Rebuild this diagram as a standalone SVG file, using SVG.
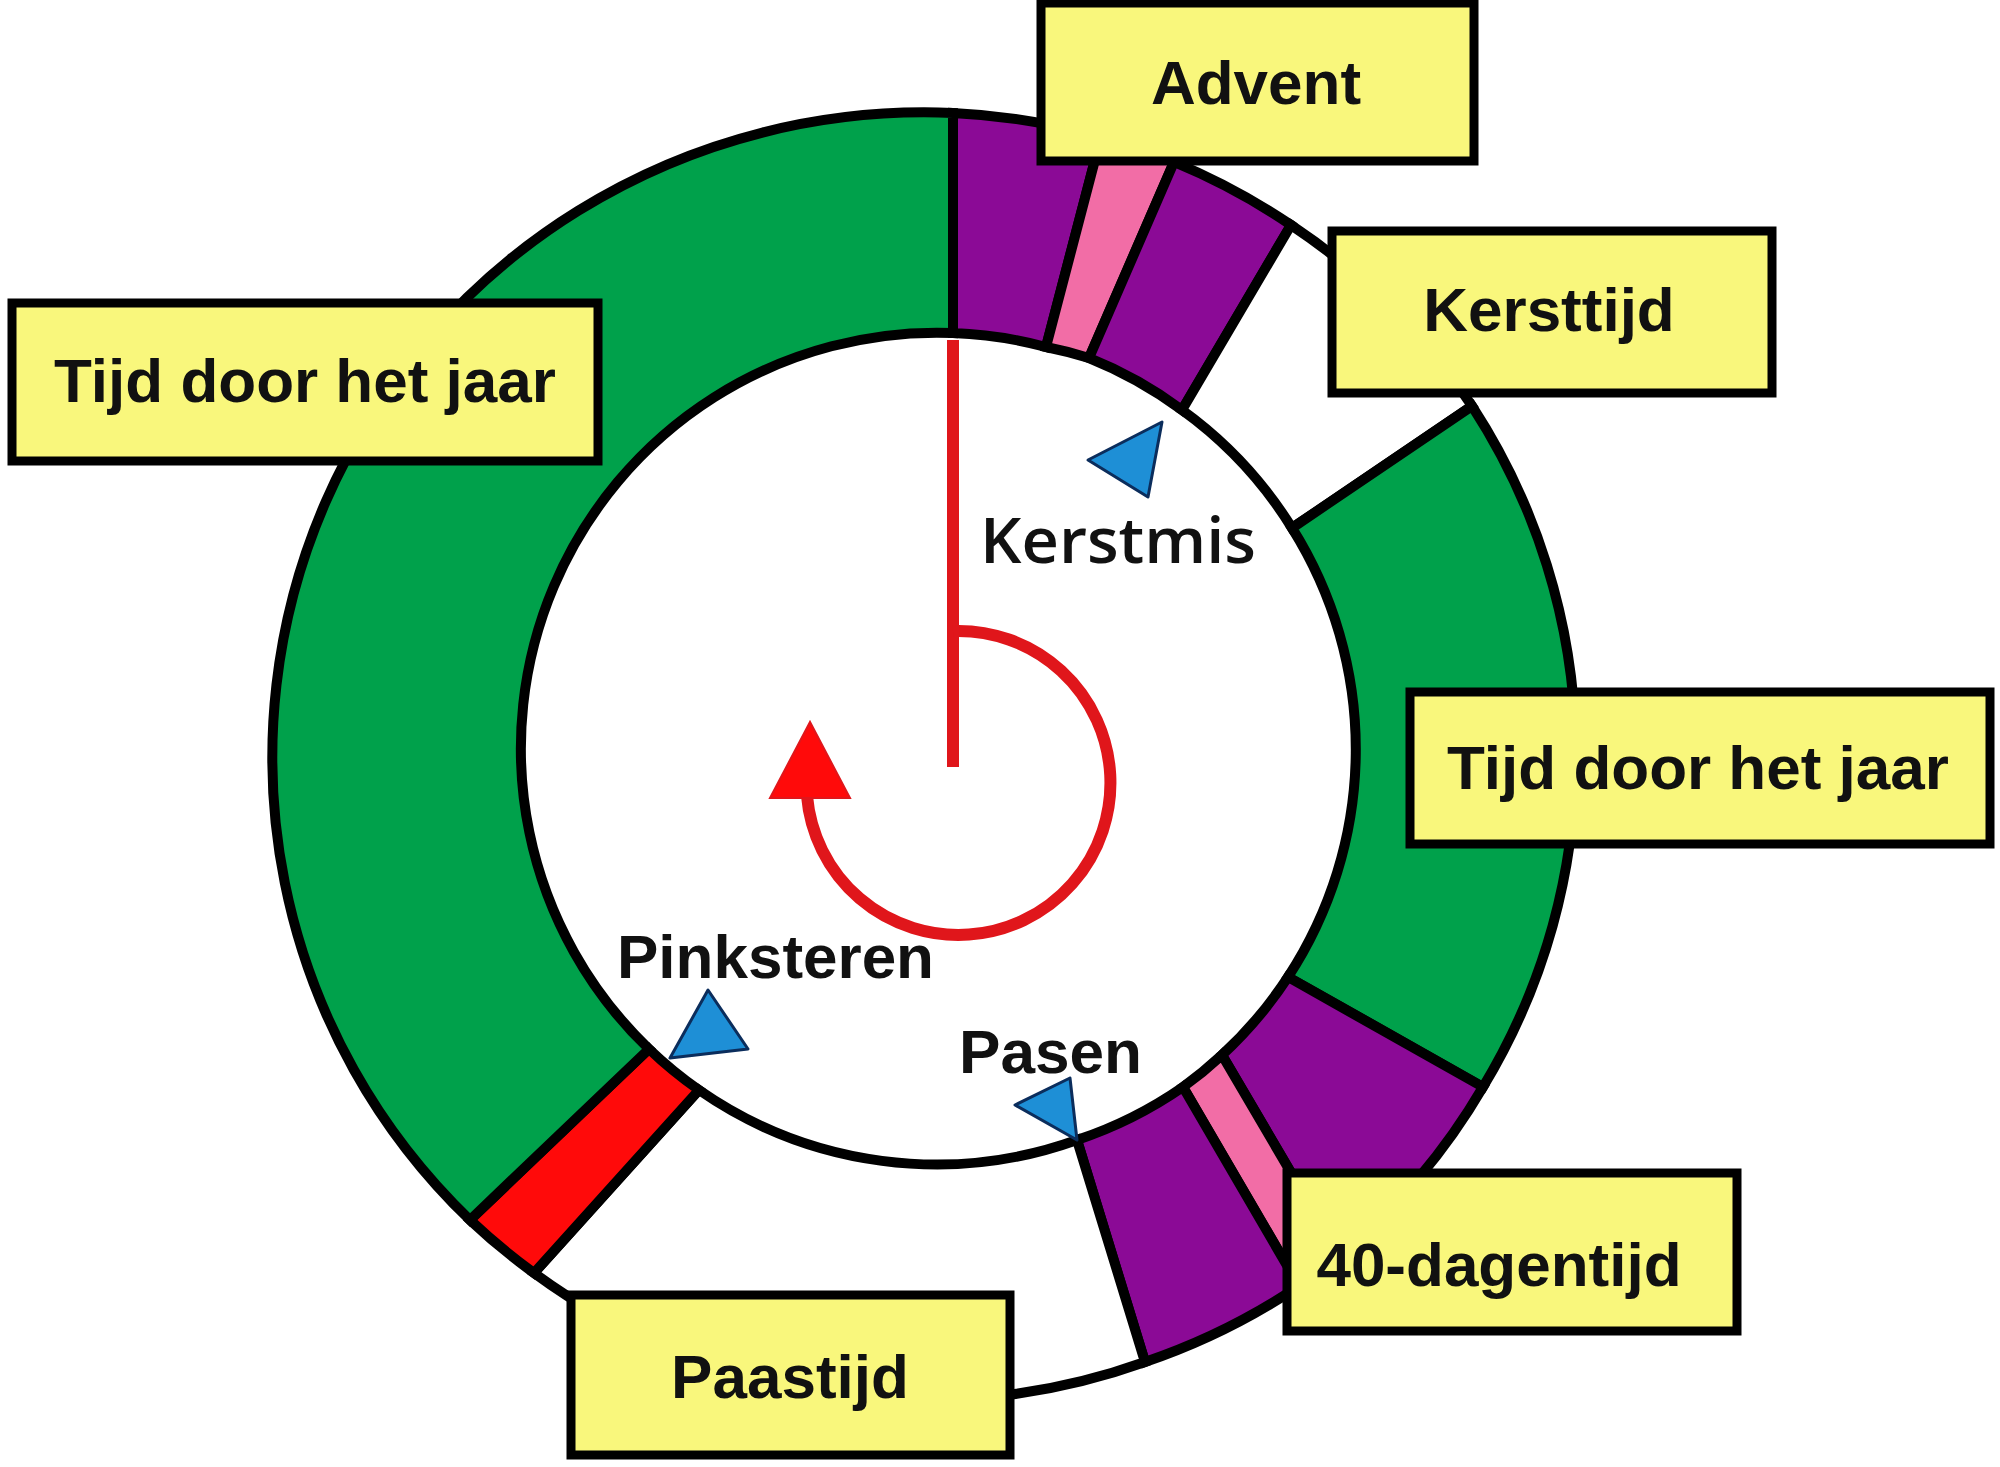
<svg xmlns="http://www.w3.org/2000/svg" width="2000" height="1467" viewBox="0 0 2000 1467">
  <style>
    .seg { stroke: #000; stroke-width: 10; stroke-linejoin: miter; }
    .purple { fill: #8B0A96; }
    .pink { fill: #F26DA6; }
    .green { fill: #00A14B; }
    .red { fill: #FF0A0A; }
    .white { fill: #FFFFFF; }
    .box { fill: #F9F77C; stroke: #000; stroke-width: 9; }
    .boxtxt { font-family: "Liberation Sans", Arial, sans-serif; font-weight: bold; font-size: 62px; fill: #111; text-anchor: middle; }
    .lbl { font-family: "Liberation Sans", Arial, sans-serif; font-weight: bold; font-size: 62px; fill: #111; }
    .marker { fill: #1E8FD6; stroke: #0B2D5C; stroke-width: 3; stroke-linejoin: round; }
  </style>
  <rect width="2000" height="1467" fill="#FFFFFF"/>

  <g id="ring">
    <path id="seg-advent-1" class="seg purple" d="M 953 333 L 953 113 A 652 645 0 0 1 1101 137 L 1046 347 A 416 416 0 0 0 953 333 Z"/>
    <path id="seg-advent-pink" class="seg pink" d="M 1046 347 L 1101 137 A 652 645 0 0 1 1174 162 L 1089 358 A 416 416 0 0 0 1046 347 Z"/>
    <path id="seg-advent-2" class="seg purple" d="M 1089 358 L 1174 162 A 652 645 0 0 1 1291 225 L 1182 410 A 416 416 0 0 0 1089 358 Z"/>
    <path id="seg-kersttijd" class="seg white" d="M 1182 410 L 1291 225 A 652 645 0 0 1 1472 406 L 1292 528 A 416 416 0 0 0 1182 410 Z"/>
    <path id="seg-tijd-rechts" class="seg green" d="M 1292 528 L 1472 406 A 652 645 0 0 1 1483 1087 L 1288 977 A 416 416 0 0 0 1292 528 Z"/>
    <path id="seg-40-1" class="seg purple" d="M 1288 977 L 1483 1087 A 652 645 0 0 1 1340 1256 L 1222 1055 A 416 416 0 0 0 1288 977 Z"/>
    <path id="seg-40-pink" class="seg pink" d="M 1222 1055 L 1340 1256 A 652 645 0 0 1 1299 1286 L 1183 1087 A 416 416 0 0 0 1222 1055 Z"/>
    <path id="seg-40-2" class="seg purple" d="M 1183 1087 L 1299 1286 A 652 645 0 0 1 1145 1362 L 1077 1140 A 416 416 0 0 0 1183 1087 Z"/>
    <path id="seg-paastijd" class="seg white" d="M 1077 1140 L 1145 1362 A 652 645 0 0 1 534 1273 L 699 1090 A 416 416 0 0 0 1077 1140 Z"/>
    <path id="seg-pinksteren" class="seg red" d="M 699 1090 L 534 1273 A 652 645 0 0 1 470 1220 L 649 1049 A 416 416 0 0 0 699 1090 Z"/>
    <path id="seg-tijd-links" class="seg green" d="M 649 1049 L 470 1220 A 652 645 0 0 1 953 113 L 953 333 A 416 416 0 0 0 649 1049 Z"/>
  </g>

  <g id="connectors">
    <line x1="953" y1="340" x2="953" y2="767" stroke="#E0161B" stroke-width="12"/>
    <path d="M 953 631 A 152 152 0 1 1 807 796" fill="none" stroke="#E0161B" stroke-width="12"/>
    <polygon points="810,722 770,798 850,798" fill="#FF0A0A" stroke="#E0161B" stroke-width="2"/>
  </g>

  <g id="kerstmis">
    <polygon class="marker" points="1162,422 1148,497 1088,460"/>
    <text x="980" y="563" font-family="'Open Sans', 'Liberation Sans', sans-serif" font-weight="600" font-size="63" fill="#111" textLength="276" lengthAdjust="spacingAndGlyphs">Kerstmis</text>
  </g>
  <g id="pinksteren">
    <polygon class="marker" points="708,990 670,1058 748,1049"/>
    <text class="lbl" x="617" y="978" textLength="317" lengthAdjust="spacingAndGlyphs">Pinksteren</text>
  </g>
  <g id="pasen">
    <polygon class="marker" points="1070,1078 1015,1105 1077,1140"/>
    <text class="lbl" x="959" y="1073" textLength="183" lengthAdjust="spacingAndGlyphs">Pasen</text>
  </g>

  <g id="label-advent">
    <rect class="box" x="1041" y="3" width="433" height="158"/>
    <text class="boxtxt" x="1256" y="104">Advent</text>
  </g>
  <g id="label-kersttijd">
    <rect class="box" x="1332" y="231" width="440" height="162"/>
    <text class="boxtxt" x="1549" y="331">Kersttijd</text>
  </g>
  <g id="label-tijd-links">
    <rect class="box" x="12" y="303" width="586" height="158"/>
    <text class="boxtxt" x="305" y="402">Tijd door het jaar</text>
  </g>
  <g id="label-tijd-rechts">
    <rect class="box" x="1410" y="692" width="580" height="152"/>
    <text class="boxtxt" x="1698" y="789">Tijd door het jaar</text>
  </g>
  <g id="label-40-dagentijd">
    <rect class="box" x="1287" y="1173" width="450" height="158"/>
    <text class="boxtxt" x="1499" y="1286">40-dagentijd</text>
  </g>
  <g id="label-paastijd">
    <rect class="box" x="571" y="1295" width="439" height="160"/>
    <text class="boxtxt" x="790" y="1398">Paastijd</text>
  </g>
</svg>
